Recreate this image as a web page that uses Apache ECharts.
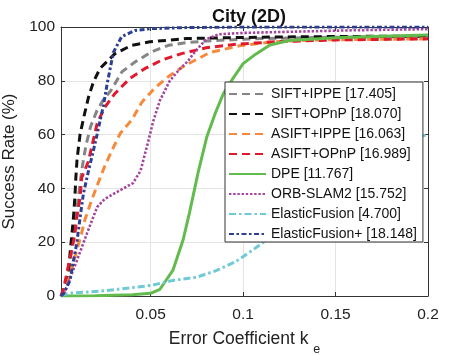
<!DOCTYPE html>
<html>
<head>
<meta charset="utf-8">
<script src="https://cdn.jsdelivr.net/npm/echarts@6/dist/echarts.min.js"></script>
<style>html,body{margin:0;padding:0;background:#fff}#c{width:474px;height:355px}</style>
</head>
<body>
<div id="c"></div>
<script>
// ---- data ----
const title = 'City (2D)';
const xTicks = [0.05, 0.1, 0.15, 0.2];
const yTicks = [0, 20, 40, 60, 80, 100];
const seriesNames = ['SIFT+IPPE [17.405]', 'SIFT+OPnP [18.070]', 'ASIFT+IPPE [16.063]', 'ASIFT+OPnP [16.989]', 'DPE [11.767]', 'ORB-SLAM2 [15.752]', 'ElasticFusion [4.700]', 'ElasticFusion+ [18.148]'];

const siftIppe = [[0.0015,0],[0.004,4],[0.0055,9],[0.007,16],[0.0085,24],[0.01,32],[0.0115,40],[0.013,48],[0.015,56],[0.0175,63],[0.021,69],[0.0245,73],[0.0286,76.5],[0.0344,83.3],[0.0415,87],[0.0506,90.8],[0.0596,93.2],[0.0695,94.2],[0.085,95],[0.11,95.7],[0.15,96.2],[0.2,96.5]];
const siftOpnp = [[0.0015,0],[0.003,2],[0.0045,5],[0.0055,8.3],[0.0064,15.8],[0.0074,23],[0.0082,29],[0.009,36.6],[0.0095,43.6],[0.0102,51],[0.0118,60],[0.014,67],[0.0164,74],[0.019,79.5],[0.0226,84.6],[0.0307,90.1],[0.0397,93.2],[0.0496,94.5],[0.0596,95.1],[0.0695,95.7],[0.09,96],[0.12,96.3],[0.16,96.5],[0.2,96.6]];
const asiftIppe = [[0.0015,0],[0.004,3],[0.006,7],[0.008,12],[0.01,17],[0.0125,23],[0.0145,28.5],[0.018,35.5],[0.021,41],[0.0253,48.5],[0.029,54],[0.0334,60.3],[0.0398,65.5],[0.0452,72],[0.0523,77.4],[0.0604,82],[0.0686,85.7],[0.082,90.5],[0.098,93],[0.116,94.5],[0.14,95.2],[0.2,95.6]];
const asiftOpnp = [[0.0015,0],[0.003,3],[0.0046,8.3],[0.006,13],[0.0073,17],[0.009,23],[0.01,29],[0.0118,36.6],[0.0127,44],[0.0163,50],[0.021,64],[0.025,70],[0.0307,75.3],[0.0388,80.9],[0.047,84.6],[0.056,87.7],[0.0667,90.1],[0.08,92.3],[0.096,93.6],[0.12,94.6],[0.15,95.2],[0.2,95.6]];
const dpe = [[0.0015,0],[0.02,0.1],[0.04,0.5],[0.05,1],[0.055,2.5],[0.062,9.5],[0.0676,21],[0.071,31],[0.0757,46],[0.0803,59],[0.0848,67.7],[0.0893,75.2],[0.0946,81],[0.1,86.4],[0.107,90],[0.1145,93.3],[0.125,95],[0.15,96],[0.175,96.6],[0.2,97]];
const orbSlam2 = [[0.0015,0],[0.003,0.5],[0.006,6],[0.01,13],[0.0154,23],[0.021,33],[0.025,36],[0.03,38],[0.0405,42],[0.0445,46.5],[0.0487,57.5],[0.0514,65],[0.055,72.7],[0.0604,80.1],[0.0659,84.5],[0.0704,87.5],[0.073,90],[0.08,95.5],[0.087,97.3],[0.1,97.8],[0.13,98.3],[0.16,98.8],[0.2,99.2]];
const elasticFusion = [[0.0015,0],[0.003,0.5],[0.0064,1],[0.026,2],[0.05,3.9],[0.062,5.8],[0.075,7],[0.0857,9.5],[0.0965,13],[0.105,17],[0.113,21],[0.125,28],[0.14,37],[0.155,45],[0.17,52],[0.185,57.5],[0.2,60]];
const elasticFusionPlus = [[0.0015,0],[0.003,1],[0.0064,5.8],[0.0082,13],[0.01,19.5],[0.0118,29],[0.0136,38],[0.0164,46.6],[0.019,54],[0.021,60],[0.0245,71],[0.0265,79],[0.0298,90.5],[0.0343,96.4],[0.0415,98.7],[0.0505,99.4],[0.07,99.8],[0.1,100],[0.2,100]];

const seriesData = [siftIppe, siftOpnp, asiftIppe, asiftOpnp, dpe, orbSlam2, elasticFusion, elasticFusionPlus];
const colors = ['#858585', '#111111', '#F7893A', '#E3182D', '#62BB4C', '#A4449C', '#6FCAD5', '#2C3F94'];
const dashes = [[8,5],[8,5],[8,5],[8,5],'solid',[2.4,1.8],[7,3,2.5,3],[5,2.5,2.5,2.5]];
const widths = [3,3,3,3,3,2.6,3,3];

const FONT = '"Liberation Sans", Arial, Helvetica, sans-serif';
const chart = echarts.init(document.getElementById('c'), null, {renderer: 'canvas'});

const series = seriesNames.map((n, i) => ({
  name: n,
  type: 'line',
  data: seriesData[i],
  showSymbol: false,
  symbol: 'none',
  smooth: false,
  clip: true,
  color: colors[i],
  lineStyle: {color: colors[i], width: widths[i], type: dashes[i], cap: 'butt'},
  z: 2 + i
}));

chart.setOption({
  animation: false,
  backgroundColor: '#fff',
  title: {
    text: title, left: 244, top: 3, textAlign: 'center',
    textStyle: {fontFamily: FONT, fontSize: 18, fontWeight: 'bold', color: '#111'}
  },
  grid: {left: 61, right: 46, top: 27, bottom: 59, containLabel: false, outerBoundsMode: 'none', show: false},
  legend: {
    orient: 'vertical', left: 225, top: 82,
    data: seriesNames,
    itemWidth: 37, itemHeight: 14, itemGap: 6,
    padding: [5, 6, 1, 3],
    backgroundColor: '#fff', borderColor: '#333', borderWidth: 1, borderRadius: 0,
    itemStyle: {opacity: 0},
    textStyle: {fontFamily: FONT, fontSize: 14, color: '#111'},
    z: 10
  },
  xAxis: [{
    type: 'value', min: 0.0015, max: 0.2, position: 'bottom',
    name: 'Error Coefficient k {sub|e}', nameLocation: 'middle', nameGap: 27,
    nameTextStyle: {fontFamily: FONT, fontSize: 17.5, color: '#222',
      rich: {sub: {fontFamily: FONT, fontSize: 12.5, color: '#222', padding: [20, 0, 0, 0]}}},
    axisLine: {show: true, onZero: false, lineStyle: {color: '#333', width: 1}},
    axisTick: {show: true, inside: true, length: 4, customValues: xTicks, lineStyle: {color: '#333'}},
    axisLabel: {show: true, customValues: xTicks, margin: 11, fontFamily: FONT, fontSize: 15.5, color: '#222',
      formatter: v => String(+v.toFixed(2))},
    splitLine: {show: true, lineStyle: {color: '#e4e4e4', width: 1}}
  }, {
    type: 'value', min: 0.0015, max: 0.2, position: 'top',
    axisLine: {show: true, onZero: false, lineStyle: {color: '#333', width: 1}},
    axisTick: {show: true, inside: true, length: 4, customValues: xTicks, lineStyle: {color: '#333'}},
    axisLabel: {show: false}, splitLine: {show: false}
  }],
  yAxis: [{
    type: 'value', min: 0, max: 100, interval: 20, position: 'left',
    name: 'Success Rate (%)', nameLocation: 'middle', nameGap: 37, nameRotate: 90,
    nameTextStyle: {fontFamily: FONT, fontSize: 17, color: '#222'},
    axisLine: {show: true, onZero: false, lineStyle: {color: '#333', width: 1}},
    axisTick: {show: true, inside: true, length: 4, lineStyle: {color: '#333'}},
    axisLabel: {show: true, margin: 6, fontFamily: FONT, fontSize: 15.5, color: '#222'},
    splitLine: {show: true, lineStyle: {color: '#e4e4e4', width: 1}}
  }, {
    type: 'value', min: 0, max: 100, interval: 20, position: 'right',
    axisLine: {show: true, onZero: false, lineStyle: {color: '#333', width: 1}},
    axisTick: {show: true, inside: true, length: 4, lineStyle: {color: '#333'}},
    axisLabel: {show: false}, splitLine: {show: false}
  }],
  series: series
});
</script>
</body>
</html>
